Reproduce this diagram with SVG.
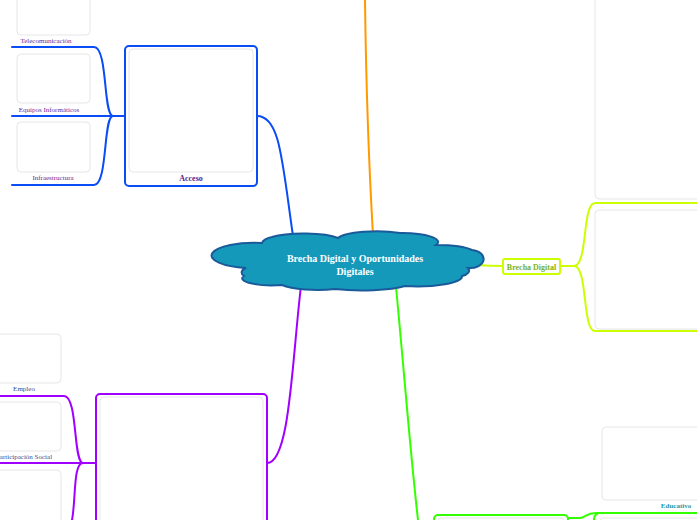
<svg xmlns="http://www.w3.org/2000/svg" width="697" height="520" viewBox="0 0 697 520">
<style>
.c{fill:none;stroke-width:2;stroke-linecap:round}
.img{fill:#fff;stroke:#e6e6e6;stroke-width:1}
.lbl{font-family:"Liberation Serif",serif;font-size:7px;text-anchor:middle}
.b{font-family:"Liberation Serif",serif;font-weight:bold;text-anchor:middle}
</style>
<rect width="697" height="520" fill="#fff"/>
<g id="connectors">
<path class="c" stroke="#ff9900" d="M365,0 C366,80 368,150 373,235"/>
<path class="c" stroke="#0a4cf5" d="M257,116 C280,116 282,160 293,236"/>
<path class="c" stroke="#0a4cf5" d="M12,47 H94 C108,47 103,116 113,116 H125 M12,116 H113 M12,185 H94 C108,185 103,116 113,116"/>
<path class="c" stroke="#ccff00" d="M476,265 C490,266 495,266 503,266 M560,266 H574 C588,266 582,203 595,203 H697 M574,266 C588,266 582,331 595,331 H697"/>
<path class="c" stroke="#a000ff" d="M267,463 C290,463 292,360 301,286"/>
<path class="c" stroke="#a000ff" d="M0,396 H64 C78,396 73,463 83,463 H96 M0,463 H83 C73,463 76,500 72,520"/>
<path class="c" stroke="#33ff00" d="M396,287 C404,370 410,450 418,520"/>
<path class="c" stroke="#33ff00" d="M568,518 H580 C585,518 586,513 596,513 H697"/>
</g>
<g id="telecom"><rect class="img" x="17" y="-10" width="73" height="45" rx="4"/><text class="lbl" x="46" y="43" fill="#6a2a9a">Telecomunicación</text></g>
<g id="equipos"><rect class="img" x="17" y="54" width="73" height="49" rx="4"/><text class="lbl" x="49" y="112" fill="#6a2a9a">Equipos Informáticos</text></g>
<g id="infra"><rect class="img" x="17" y="122" width="73" height="50" rx="4"/><text class="lbl" x="53" y="180" fill="#6a2a9a">Infraestructura</text></g>
<g id="acceso"><rect x="125" y="46" width="132" height="140" rx="4" fill="#fff" stroke="#0a4cf5" stroke-width="2"/><rect class="img" x="129" y="49" width="124" height="123" rx="4"/><text class="b" x="191" y="181" font-size="8" fill="#5a1a8a">Acceso</text></g>
<g id="brecha"><rect class="img" x="595" y="-10" width="110" height="209" rx="4"/><rect class="img" x="595" y="210" width="110" height="119" rx="4"/><rect x="503" y="259" width="57" height="15" rx="2" fill="#fff" stroke="#ccff00" stroke-width="2"/><text class="b" x="531.5" y="270" font-size="8" fill="#7ab317">Brecha Digital</text></g>
<g id="empleo"><rect class="img" x="-10" y="334" width="71" height="49" rx="4"/><text class="lbl" x="24" y="391" fill="#3a4a8a">Empleo</text></g>
<g id="participacion"><rect class="img" x="-10" y="402" width="71" height="49" rx="4"/><text class="lbl" x="24" y="459" fill="#3a4a8a">Participación Social</text></g>
<g id="purple3"><rect class="img" x="-10" y="470" width="71" height="60" rx="4"/></g>
<g id="purple"><rect x="96" y="394" width="171" height="140" rx="4" fill="#fff" stroke="#a000ff" stroke-width="2"/><rect class="img" x="100" y="397" width="163" height="130" rx="4"/></g>
<g id="educativo"><rect class="img" x="602" y="427" width="105" height="73" rx="4"/><text class="b" x="676" y="508" font-size="7" fill="#1a9aaa">Educativo</text></g>
<g id="green1"><rect x="434" y="515" width="134" height="20" rx="4" fill="#fff" stroke="#33ff00" stroke-width="2"/><rect class="img" x="438" y="518" width="126" height="12" rx="3"/></g>
<g id="green2"><rect x="594" y="513" width="120" height="20" rx="6" fill="#fff" stroke="#33ff00" stroke-width="2"/><rect class="img" x="600" y="518" width="110" height="12" rx="3"/></g>
<g id="central">
<path d="M262,243 A20 8 0 0 1 272,237 A38 8 0 0 1 338,238 A40 9 0 0 1 400,233 A36 9 0 0 1 436,245 A40 8 0 0 1 472,250 A12 8 0 0 1 468,268 A12 6 0 0 1 462,276 A45 10 0 0 1 405,286 A50 9 0 0 1 335,289 A40 9 0 0 1 282,285 A30 7 0 0 1 244,276 A8 5 0 0 1 246,268 A30 9 0 0 1 262,243 Z" fill="#1499bb" stroke="#1a5a9a" stroke-width="2"/>
<text class="b" x="355" y="262" font-size="10" fill="#fff">Brecha Digital y Oportunidades</text>
<text class="b" x="355" y="275" font-size="10" fill="#fff">Digitales</text>
</g>
</svg>
